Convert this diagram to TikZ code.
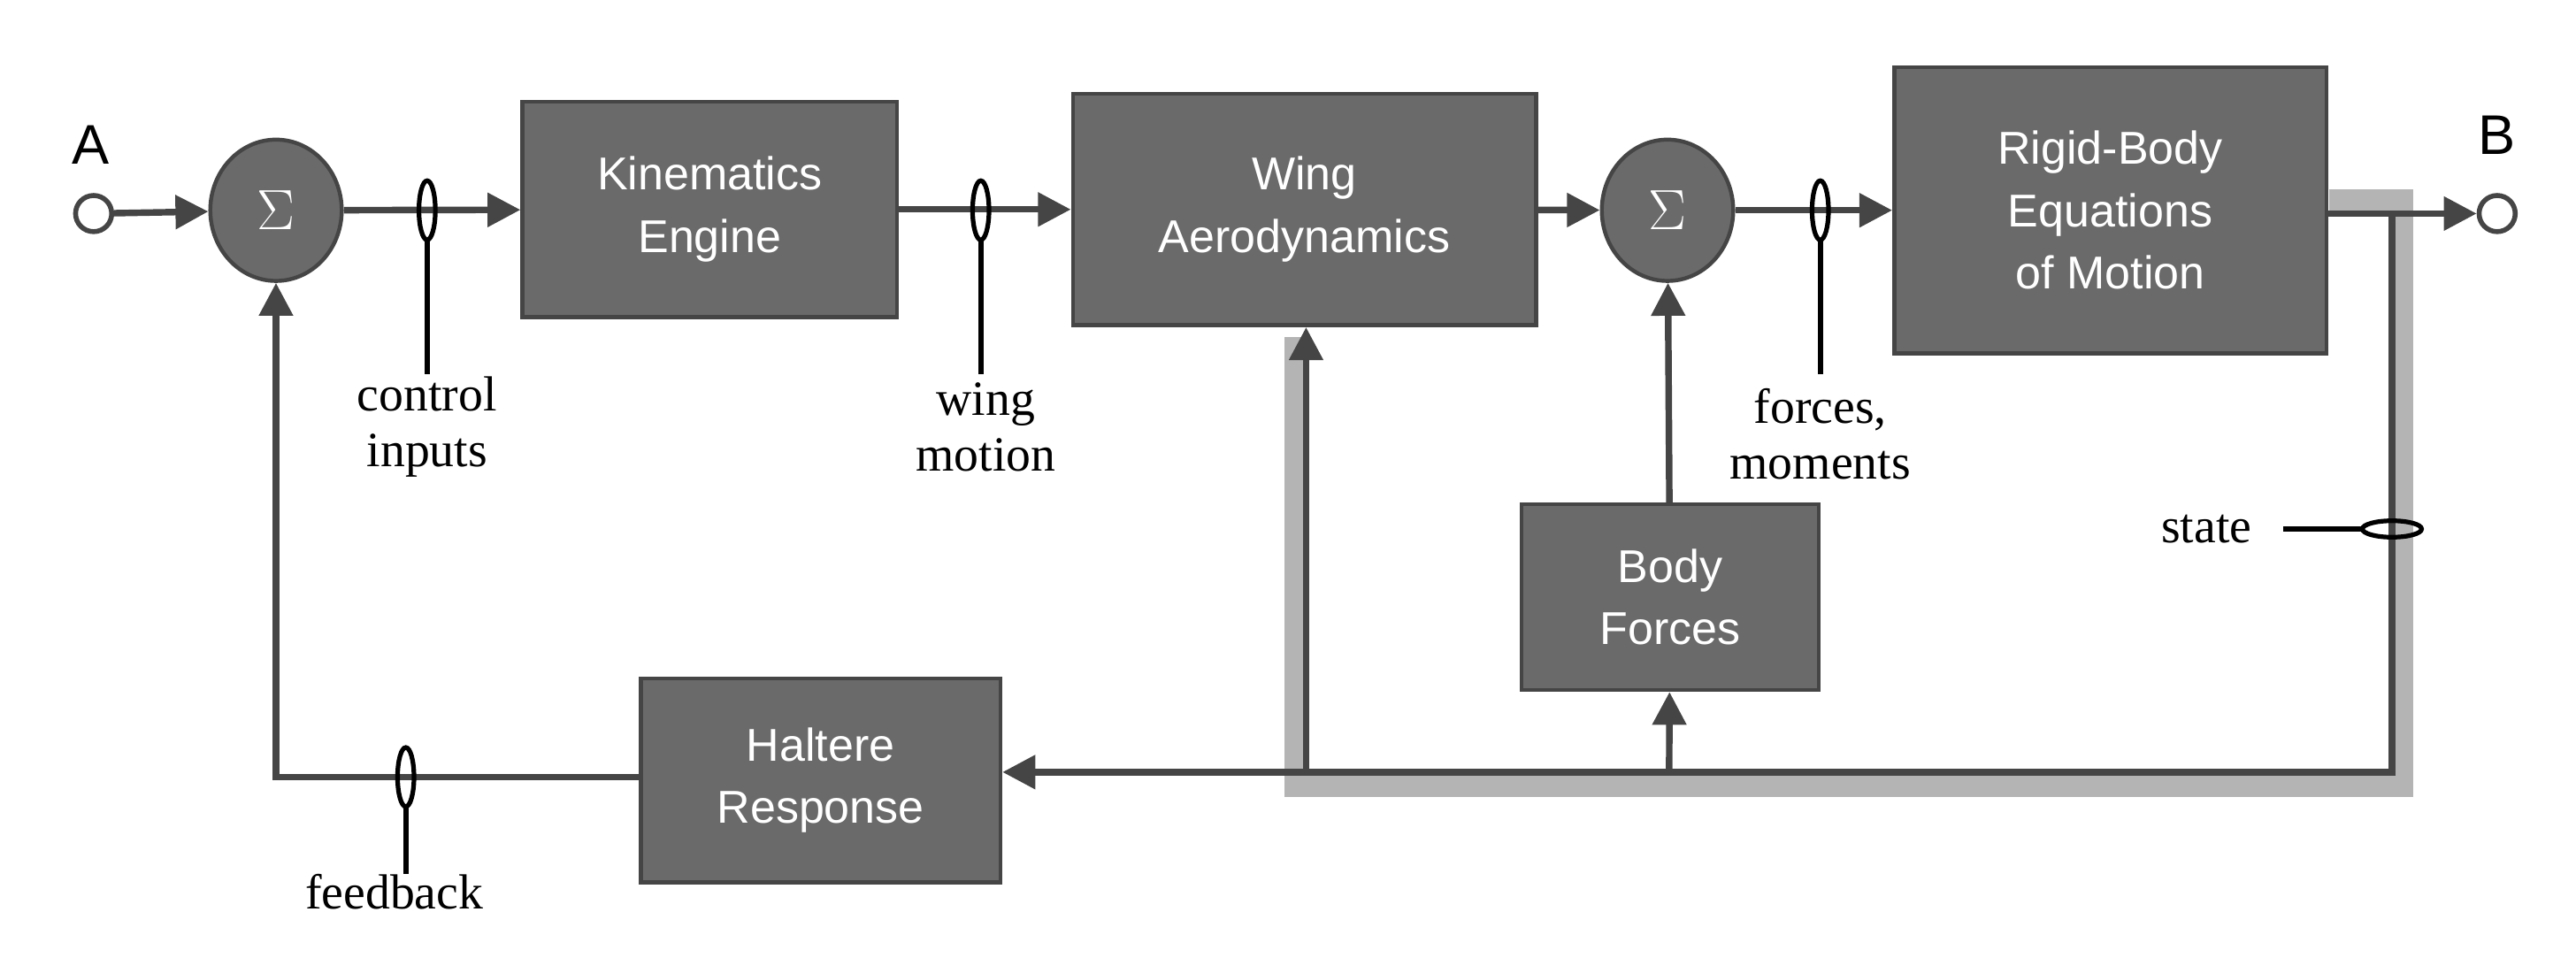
\documentclass[tikz,border=0pt]{standalone}
\usepackage{fontspec}
\setmainfont{Liberation Serif}
\setsansfont{Liberation Sans}
\usetikzlibrary{arrows.meta,shapes.geometric}
\definecolor{boxfill}{HTML}{6A6A6A}
\definecolor{boxline}{HTML}{454545}
\definecolor{band}{HTML}{B4B4B4}
\begin{document}
\begin{tikzpicture}[x=0.5pt,y=-0.5pt,
  blk/.style={draw=boxline,line width=1.2pt,fill=boxfill,text=white,font=\sffamily\fontsize{14}{19}\selectfont,align=center,inner sep=0pt},
  sumn/.style={ellipse,draw=boxline,line width=1.2pt,fill=boxfill,text=white,minimum width=40pt,minimum height=43pt,inner sep=0pt,font=\fontsize{18}{18}\selectfont},
  port/.style={circle,draw=boxline,line width=1.5pt,fill=white,minimum size=11pt,inner sep=0pt},
  sig/.style={draw=boxline,line width=2pt},
  arr/.style={sig,-{Triangle[length=10pt,width=10pt]}},
  lbl/.style={font=\fontsize{15}{17}\selectfont,align=center,inner sep=0pt},
  loopm/.style={draw=black,line width=1.4pt},
  tick/.style={draw=black,line width=1.6pt}]
\useasboundingbox (0,0) rectangle (1568,583);
% blocks
\node[blk,minimum width=114pt,minimum height=65.5pt] (kin) at (432,127.5) {Kinematics\\Engine};
\node[blk,minimum width=141pt,minimum height=70.5pt] (wing) at (794,127.5) {Wing\\Aerodynamics};
\node[blk,minimum width=131.5pt,minimum height=87pt] (rigid) at (1284.5,128) {Rigid-Body\\Equations\\of Motion};
\node[blk,minimum width=90.5pt,minimum height=56.5pt] (body) at (1016.5,363.5) {Body\\Forces};
\node[blk,minimum width=109.5pt,minimum height=62pt] (halt) at (499.5,475) {Haltere\\Response};
\node[sumn] (s1) at (168,128) {$\Sigma$};
\node[sumn] (s2) at (1015,128) {$\Sigma$};
\node[port] (A) at (57,130) {};
\node[port] (B) at (1520,130) {};
\node[font=\sffamily\fontsize{17}{17}\selectfont] (la) at (55,88) {A};
\node[font=\sffamily\fontsize{17}{17}\selectfont] (lb) at (1520,82) {B};
% state band (highlight)
\coordinate (sR) at (1456,130);
\coordinate (sC) at (1456,470);
\coordinate (sL) at (795,470);
\coordinate (sB) at (1016,470);
\coordinate (fbc) at (168,473);
\draw[band,line width=7pt] (1418,122) -- (1462,122) -- (1462,478) -- (789,478) -- (789,205);
% forward path
\draw[arr] (A) -- (s1);
\draw[arr] (s1) -- (kin);
\draw[arr] (kin) -- (wing);
\draw[arr] (wing) -- (s2);
\draw[arr] (s2) -- (rigid);
\draw[arr] (rigid.east |- B) -- (B);
\draw[arr] (body) -- (s2);
% feedback
\draw[sig] (sR) -- (sC) -- (sL);
\draw[arr] (sL) -- (wing.south -| sL);
\draw[arr] (sL) -- (halt.east |- sL);
\draw[arr] (sB) -- (body);
\draw[arr] (halt.west |- fbc) -- (fbc) -- (s1);
% signal markers
\coordinate (m1) at (260,128);
\coordinate (m2) at (597,128);
\coordinate (m3) at (1108,128);
\coordinate (m4) at (247,473);
\coordinate (m5) at (1456,322);
\draw[loopm] (m1) ellipse (5 and 18);
\draw[loopm] (m2) ellipse (5 and 18);
\draw[loopm] (m3) ellipse (5 and 18);
\draw[loopm] (m4) ellipse (5 and 18);
\draw[loopm] (m5) ellipse (18 and 5);
\node[lbl] (t1) at (260,260) {control\\inputs};
\node[lbl] (t2) at (600,260) {wing\\motion};
\node[lbl] (t3) at (1108,264) {forces,\\moments};
\node[lbl,anchor=north] (t4) at (240,532) {feedback};
\node[lbl] (t5) at (1343,322) {state};
\draw[tick] (m1) ++(0,18) -- (260,228);
\draw[tick] (m2) ++(0,18) -- (597,228);
\draw[tick] (m3) ++(0,18) -- (1108,228);
\draw[tick] (m4) ++(0,18) -- (247,532);
\draw[tick] (m5) ++(-18,0) -- (1390,322);
\end{tikzpicture}
\end{document}
